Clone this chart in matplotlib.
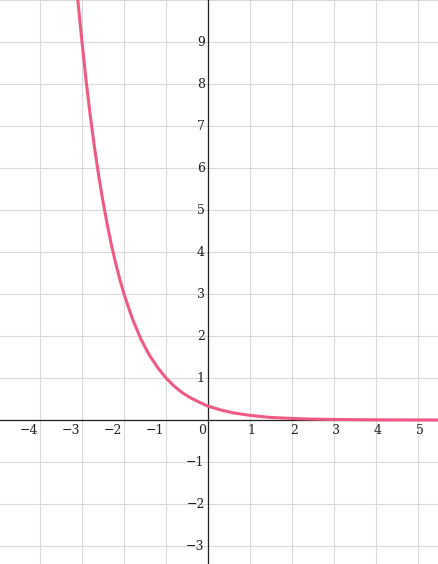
import matplotlib
matplotlib.use("Agg")
import matplotlib.pyplot as plt

# points
curve_x = [-3.1, -3.0, -2.9, -2.8, -2.7, -2.6, -2.5, -2.4, -2.3, -2.2, -2.1, -2.0,
           -1.8, -1.6, -1.4, -1.2, -1.0, -0.8, -0.6, -0.4, -0.2, 0.0, 0.3, 0.6,
           1.0, 1.5, 2.0, 2.5, 3.0, 4.0, 5.5]
curve_y = [10.0, 9.0, 8.06, 7.22, 6.47, 5.80, 5.20, 4.66, 4.17, 3.74, 3.35, 3.0,
           2.41, 1.93, 1.55, 1.25, 1.0, 0.80, 0.64, 0.52, 0.42, 0.33, 0.24, 0.17,
           0.11, 0.06, 0.037, 0.02, 0.012, 0.004, 0.001]
x_ticks = [-5, -4, -3, -2, -1, 1, 2, 3, 4, 5]
y_ticks = [-3, -2, -1, 1, 2, 3, 4, 5, 6, 7, 8, 9]

fig = plt.figure(figsize=(4.38, 5.64), dpi=100)
ax = fig.add_axes([0, 0, 1, 1])
x0, x1 = -208 / 42, 230 / 42
y0, y1 = -144 / 42, 10.0
ax.set_xlim(x0, x1)
ax.set_ylim(y0, y1)
ax.axis("off")

for v in range(-5, 6):
    ax.axvline(v, color="#d9d9d9", lw=0.8, zorder=0)
for v in range(-3, 11):
    ax.axhline(v, color="#d9d9d9", lw=0.8, zorder=0)
ax.axhline(0, color="#222222", lw=0.9, zorder=1)
ax.axvline(0, color="#222222", lw=0.9, zorder=1)

font = dict(fontsize=9, family="DejaVu Serif", color="#222222")
for t in x_ticks:
    ax.text(t - 0.05, -0.1, str(t).replace("-", "\u2212"), ha="right" if t < 0 else "left",
            va="top", clip_on=False, **font)
ax.text(-0.05, -0.1, "0", ha="right", va="top", **font)
for t in y_ticks:
    ax.text(-0.08, t, str(t).replace("-", "\u2212"), ha="right", va="center", **font)

ax.plot(curve_x, curve_y, color="#ef5a85", lw=2.2, zorder=3, solid_capstyle="round",
        solid_joinstyle="round")

fig.savefig("out.png", dpi=100)
